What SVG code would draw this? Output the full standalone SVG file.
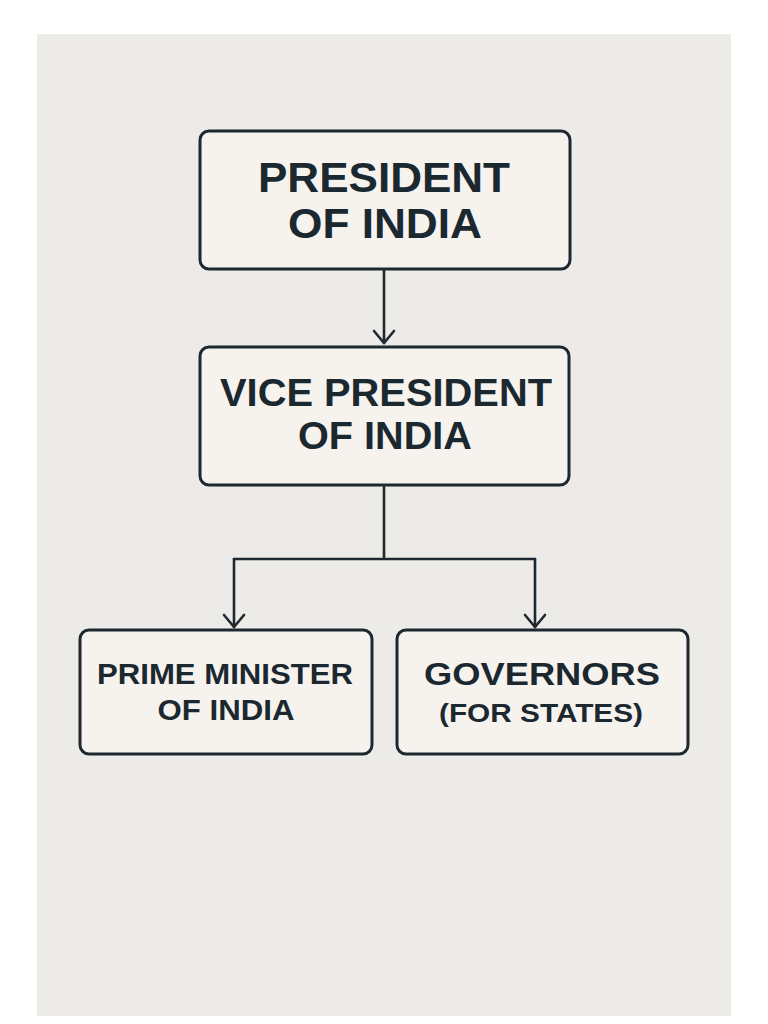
<svg xmlns="http://www.w3.org/2000/svg" width="768" height="1024" viewBox="0 0 768 1024">
<defs>
<style>
.box{fill:#f6f3ee;stroke:#1d2830;stroke-width:3}
.t{font-family:"Liberation Sans",Arial,sans-serif;font-weight:bold;fill:#1c2830;text-anchor:middle}
.c{fill:none;stroke:#1d2830;stroke-width:2.6;stroke-linecap:round;stroke-linejoin:round}
</style>
<marker id="ah" viewBox="0 0 16 24" refX="14" refY="12" markerWidth="16" markerHeight="24" markerUnits="userSpaceOnUse" orient="auto">
<path d="M2,2 L14,12 L2,22" fill="none" stroke="#1d2830" stroke-width="2.6" stroke-linecap="round" stroke-linejoin="round"/>
</marker>
</defs>
<rect x="0" y="0" width="768" height="1024" fill="#ffffff"/>
<rect x="37" y="34" width="694" height="982" fill="#edebe8"/>
<g id="connectors">
<path class="c" d="M384,270 V343" marker-end="url(#ah)"/>
<path class="c" d="M384,487 V559 M234,559 H535"/>
<path class="c" d="M234,559 V627" marker-end="url(#ah)"/>
<path class="c" d="M535,559 V627" marker-end="url(#ah)"/>
</g>
<g id="president">
<rect class="box" x="200" y="131" width="370" height="138" rx="9"/>
<text class="t" x="384" y="192" font-size="42" textLength="252" lengthAdjust="spacingAndGlyphs">PRESIDENT</text>
<text class="t" x="385" y="238" font-size="42" textLength="194" lengthAdjust="spacingAndGlyphs">OF INDIA</text>
</g>
<g id="vice-president">
<rect class="box" x="200" y="347" width="369" height="138" rx="9"/>
<text class="t" x="386" y="406" font-size="39" textLength="332" lengthAdjust="spacingAndGlyphs">VICE PRESIDENT</text>
<text class="t" x="385" y="449" font-size="39" textLength="174" lengthAdjust="spacingAndGlyphs">OF INDIA</text>
</g>
<g id="prime-minister">
<rect class="box" x="80" y="630" width="292" height="124" rx="9"/>
<text class="t" x="225" y="684" font-size="29" textLength="256" lengthAdjust="spacingAndGlyphs">PRIME MINISTER</text>
<text class="t" x="226" y="720" font-size="29" textLength="137" lengthAdjust="spacingAndGlyphs">OF INDIA</text>
</g>
<g id="governors">
<rect class="box" x="397" y="630" width="291" height="124" rx="9"/>
<text class="t" x="542" y="685" font-size="31" textLength="236" lengthAdjust="spacingAndGlyphs">GOVERNORS</text>
<text class="t" x="541" y="722" font-size="25" textLength="204" lengthAdjust="spacingAndGlyphs">(FOR STATES)</text>
</g>
</svg>
